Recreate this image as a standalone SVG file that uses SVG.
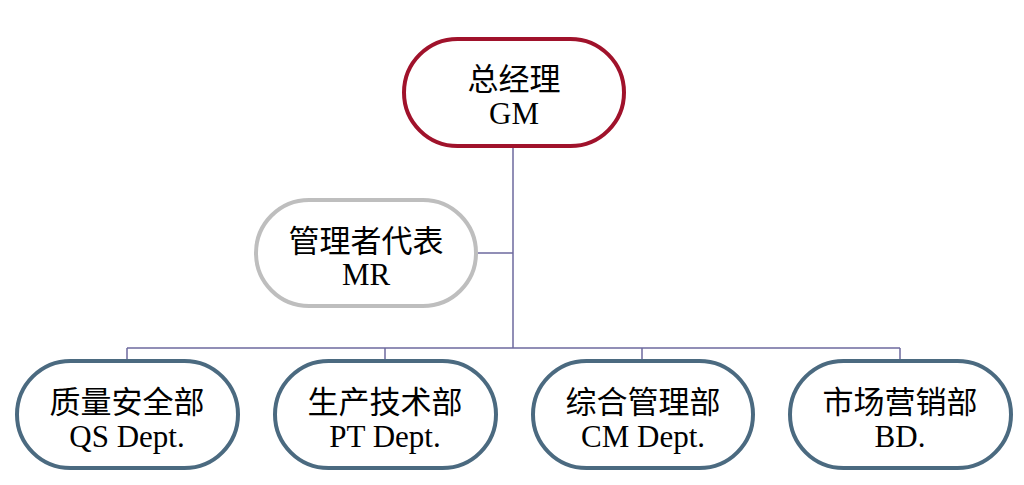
<svg xmlns="http://www.w3.org/2000/svg" width="1024" height="485" viewBox="0 0 1024 485">
<style>
.node{fill:#fff;stroke-width:4}
.gm{stroke:#A0122B}
.mr{stroke:#BEBEBE}
.dept{stroke:#4B6A80}
.t{font-family:"Liberation Serif","Noto Sans CJK SC",serif;font-size:31px;fill:#000;text-anchor:middle}
.conn{stroke:#6E6A9E;stroke-width:1.5;fill:none}
</style>
<rect width="1024" height="485" fill="#fff"/>
<g id="connectors">
<path class="conn" d="M513,147 V348 M478,253 H513 M127,348 H900 M127,348 V360 M385,348 V360 M642,348 V360 M900,348 V360"/>
</g>
<g id="gm">
<rect class="node gm" x="404" y="39" width="220" height="107" rx="53.5"/>
<text class="t" x="514" y="90">总经理</text>
<text class="t" x="514" y="124">GM</text>
</g>
<g id="mr">
<rect class="node mr" x="256" y="200" width="220" height="106" rx="53"/>
<text class="t" x="366" y="252">管理者代表</text>
<text class="t" x="366" y="285">MR</text>
</g>
<g id="qs">
<rect class="node dept" x="17" y="361" width="221" height="107" rx="53.5"/>
<text class="t" x="127" y="413">质量安全部</text>
<text class="t" x="127" y="447">QS Dept.</text>
</g>
<g id="pt">
<rect class="node dept" x="275" y="361" width="221" height="107" rx="53.5"/>
<text class="t" x="385" y="413">生产技术部</text>
<text class="t" x="385" y="447">PT Dept.</text>
</g>
<g id="cm">
<rect class="node dept" x="533" y="361" width="220" height="107" rx="53.5"/>
<text class="t" x="643" y="413">综合管理部</text>
<text class="t" x="643" y="447">CM Dept.</text>
</g>
<g id="bd">
<rect class="node dept" x="790" y="361" width="221" height="107" rx="53.5"/>
<text class="t" x="900" y="413">市场营销部</text>
<text class="t" x="900" y="447">BD.</text>
</g>
</svg>
